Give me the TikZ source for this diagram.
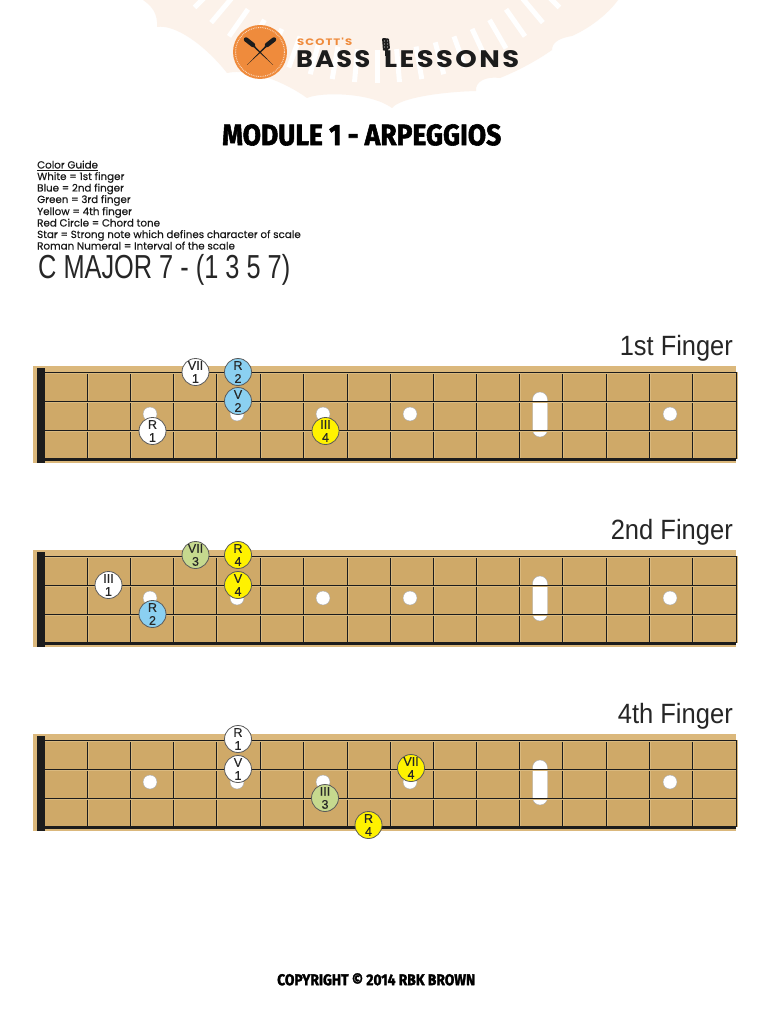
\documentclass[tikz,border=0pt]{standalone}
\usepackage{graphicx}
\usepackage{fontspec}
\setmainfont{Liberation Sans}
\newfontfamily\popf{Poppins}
\newfontfamily\popm{Poppins}[FakeBold=0.4]
\newfontfamily\popw{Poppins}[LetterSpace=9,BoldFont=Poppins Bold]
\newfontfamily\headf{Fira Sans}[FakeBold=2]
\newfontfamily\notef{Liberation Sans}[FakeBold=0.25]
\definecolor{pale}{HTML}{FCF2EA}
\definecolor{orangeL}{HTML}{EF8B3C}
\definecolor{tan}{HTML}{CFA968}
\definecolor{tanL}{HTML}{DBB87C}
\definecolor{tanH}{HTML}{D9B97F}
\definecolor{ink}{HTML}{1C1C1C}
\definecolor{blueN}{HTML}{8BD0F1}
\definecolor{yellowN}{HTML}{FFF200}
\definecolor{greenN}{HTML}{C6D98E}
\tikzset{
  note/.style={circle,draw=black!65,line width=0.8pt,minimum size=27pt,inner sep=0pt,
    align=center,font=\notef\fontsize{12.5}{13}\selectfont,text=black!85},
  wn/.style={note,fill=white},
  bn/.style={note,fill=blueN},
  yn/.style={note,fill=yellowN},
  gn/.style={note,fill=greenN},
  inlay/.style={fill=white,draw=black!35,line width=0.4pt},
  fretline/.style={draw=ink,line width=1pt},
  guide/.style={anchor=base west,inner sep=0pt,font=\popm\fontsize{10.3}{10}\selectfont,text=black!90},
  fitted/.style={inner sep=0pt},
}
\newcommand{\fretboard}{%
  \fill[tanL] (33,366) rectangle (736,463);
  \fill[tan] (45,372) rectangle (736,459);
  \foreach \ix in {150,237,323,410,670}{\draw[inlay] (\ix,414) circle (7);}
  \draw[inlay,rounded corners=7.4] (532.5,392) rectangle (547.5,437);
  \foreach \fx in {87,130.5,173,216,260,303,347,390,433,476,519,562,606,649,692,736}{
    \draw[tanH,line width=0.6pt] (\fx+1,372) -- (\fx+1,459);
    \draw[fretline] (\fx,372) -- (\fx,459);}
  \foreach \sy in {372,401,430}{
    \draw[tanH,line width=0.6pt] (45,\sy+1) -- (736,\sy+1);
    \draw[fretline] (45,\sy) -- (736,\sy);}
  \draw[ink,line width=3pt] (45,459) -- (736,459);
  \fill[ink] (37,368) rectangle (45,463);
}
\begin{document}
\begin{tikzpicture}[x=1pt,y=-1pt]
\useasboundingbox (0,0) rectangle (768,1024);
\fill[white] (0,0) rectangle (768,1024);
% banner
\begin{scope}
\clip (0,0) rectangle (768,110);
\fill[pale] (143,0) .. controls (152,6) and (158,14) .. (157,27)
  .. controls (175,24) and (205,45) .. (227,73)
  .. controls (250,68) and (285,82) .. (307,98)
  .. controls (320,92) and (370,92) .. (392,108)
  .. controls (400,98) and (440,92) .. (476,91)
  .. controls (475,82) and (485,76) .. (500,78)
  .. controls (515,72) and (535,62) .. (552,50)
  .. controls (552,42) and (560,38) .. (572,36)
  .. controls (590,28) and (608,14) .. (618,0) -- cycle;
\begin{scope}
\clip (143,0) .. controls (152,6) and (158,14) .. (157,27)
  .. controls (175,24) and (205,45) .. (227,73) -- (392,108) -- (552,50) -- (618,0) -- cycle;
\foreach \a in {-45,-40,...,45}{
  \draw[white,line width=5pt] ({377+225*sin(\a)},{-175+225*cos(\a)}) -- ({377+258*sin(\a)},{-175+258*cos(\a)});}
\end{scope}
\end{scope}
% logo
\fill[orangeL] (260,52) circle (27);
\draw[white!70!orangeL,line width=1pt,dash pattern=on 0.8pt off 1pt] (260,52) circle (24.5);
\fill[ink] (248,42) -- (250,41) -- (273,65) -- cycle;
\fill[ink] (272,42) -- (270,41) -- (247,65) -- cycle;
\draw[ink,line width=4.5pt,line cap=round] (246,39.5) -- (253,45);
\draw[ink,line width=4.5pt,line cap=round] (274,39.5) -- (267,45);
\node[fitted,anchor=north west,text=orangeL] (scotts) at (297,38) {\resizebox{55pt}{7.5pt}{\popw\bfseries SCOTT'S}};
\node[fitted,anchor=north west,text=ink] (bass) at (296,50) {\resizebox{74pt}{17pt}{\popw\bfseries BASS}};
\node[fitted,anchor=north west,text=ink] (lessons) at (384,50) {\resizebox{135pt}{17pt}{\popw\bfseries LESSONS}};
\fill[ink,rounded corners=1pt] (382,38) -- (389,38.5) -- (390,49) -- (383,51) -- cycle;
\draw[ink,line width=2.6pt] (386.5,49) -- (386.5,56);
\foreach \py in {41,44,47}{\fill[white!70!ink] (384.5,\py) circle (0.7);\fill[white!70!ink] (387.5,\py) circle (0.7);}
% title
\node[fitted,anchor=north west] (title) at (222,124) {\resizebox{279pt}{21pt}{\headf\bfseries MODULE 1 - ARPEGGIOS}};
% colour guide
\node[guide] (g0) at (37,168.5) {\underline{Color Guide}};
\node[guide] (g1) at (37,180) {White = 1st finger};
\node[guide] (g2) at (37,191.5) {Blue = 2nd finger};
\node[guide] (g3) at (37,203) {Green = 3rd finger};
\node[guide] (g4) at (37,215) {Yellow = 4th finger};
\node[guide] (g5) at (37,226.5) {Red Circle = Chord tone};
\node[guide] (g6) at (37,238) {Star = Strong note which defines character of scale};
\node[guide] (g7) at (37,249.5) {Roman Numeral = Interval of the scale};
\node[fitted,anchor=north west,text=black!85] (chord) at (38,254.5) {\resizebox*{252pt}{31pt}{C MAJOR 7 - (1 3 5 7)}};
% board 1
\node[fitted,anchor=north east,text=black!85] (h1) at (733,335) {\resizebox*{113pt}{26pt}{1st Finger}};
\fretboard
\node[wn] (a1) at (195.5,372) {VII\\1};
\node[bn] (a2) at (238,372) {R\\2};
\node[bn] (a3) at (238,401) {V\\2};
\node[wn] (a4) at (152.5,431) {R\\1};
\node[yn] (a5) at (325.5,431) {III\\4};
% board 2
\begin{scope}[yshift=-184pt]
\node[fitted,anchor=north east,text=black!85] (h2) at (733,335) {\resizebox*{122pt}{26pt}{2nd Finger}};
\fretboard
\node[gn] (b1) at (195.5,371) {VII\\3};
\node[yn] (b2) at (238,371) {R\\4};
\node[yn] (b3) at (238,401) {V\\4};
\node[wn] (b4) at (108.5,401) {III\\1};
\node[bn] (b5) at (152.5,430) {R\\2};
\end{scope}
% board 3
\begin{scope}[yshift=-368pt]
\node[fitted,anchor=north east,text=black!85] (h3) at (733,335) {\resizebox*{115pt}{26pt}{4th Finger}};
\fretboard
\node[wn] (c1) at (238,371) {R\\1};
\node[wn] (c2) at (238,401) {V\\1};
\node[yn] (c3) at (411,400) {VII\\4};
\node[gn] (c4) at (325,430) {III\\3};
\node[yn] (c5) at (368.5,457) {R\\4};
\end{scope}
% footer
\node[fitted,anchor=north west] (foot) at (277,973) {\resizebox{198pt}{12pt}{\headf\bfseries COPYRIGHT © 2014 RBK BROWN}};
\end{tikzpicture}
\end{document}
